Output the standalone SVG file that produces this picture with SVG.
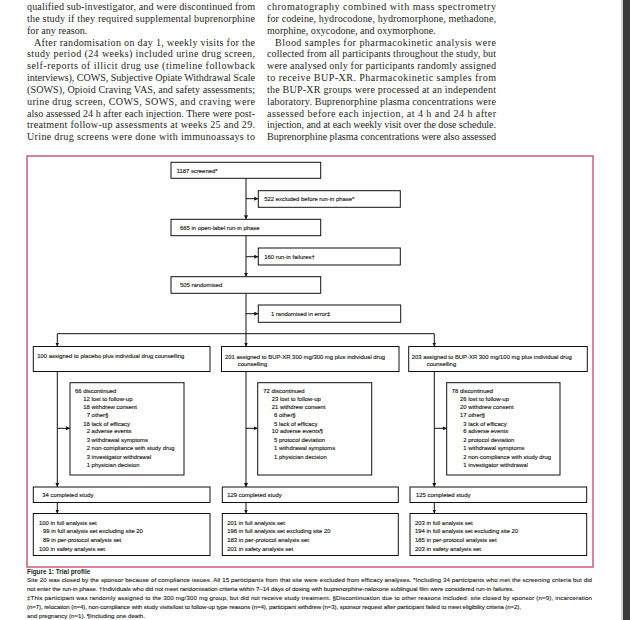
<svg xmlns="http://www.w3.org/2000/svg" width="630" height="620" viewBox="0 0 630 620">
<style>
.body{font-family:"Liberation Serif","Times New Roman",serif;font-size:10.1px;fill:#231f20}
.t{font-family:"Liberation Sans",Arial,sans-serif;font-size:5.9px;fill:#231f20;stroke:#231f20;stroke-width:0.15}
.cap{font-family:"Liberation Sans",Arial,sans-serif;font-size:6.1px;fill:#231f20;stroke:#231f20;stroke-width:0.12}
.capb{font-family:"Liberation Sans",Arial,sans-serif;font-size:6.4px;font-weight:bold;fill:#231f20}
.box{fill:#fff;stroke:#111;stroke-width:1}
.ln{fill:none;stroke:#111;stroke-width:1}
.arr{fill:none;stroke:#111;stroke-width:1;marker-end:url(#ah)}
</style>
<defs>
<marker id="ah" viewBox="0 0 6 6" refX="6" refY="3" markerWidth="4" markerHeight="4" markerUnits="userSpaceOnUse" orient="auto">
<path d="M0,0 L6,3 L0,6 z" fill="#111"/>
</marker>
</defs>
<rect width="630" height="620" fill="#fff"/>
<rect x="621" y="0" width="2" height="620" fill="#d4d4d4"/>
<rect x="623" y="0" width="7" height="620" fill="#3a3a3a"/>

<g id="body-text">
<text class="body" x="27" y="10" textLength="228" lengthAdjust="spacing">qualified sub-investigator, and were discontinued from</text>
<text class="body" x="27" y="22" textLength="228" lengthAdjust="spacing">the study if they required supplemental buprenorphine</text>
<text class="body" x="27" y="34">for any reason.</text>
<text class="body" x="34" y="45.5" textLength="221" lengthAdjust="spacing">After randomisation on day 1, weekly visits for the</text>
<text class="body" x="27" y="57" textLength="228" lengthAdjust="spacing">study period (24 weeks) included urine drug screen,</text>
<text class="body" x="27" y="69" textLength="228" lengthAdjust="spacing">self-reports of illicit drug use (timeline followback</text>
<text class="body" x="27" y="81" textLength="228" lengthAdjust="spacing">interviews), COWS, Subjective Opiate Withdrawal Scale</text>
<text class="body" x="27" y="93" textLength="228" lengthAdjust="spacing">(SOWS), Opioid Craving VAS, and safety assessments;</text>
<text class="body" x="27" y="104.5" textLength="228" lengthAdjust="spacing">urine drug screen, COWS, SOWS, and craving were</text>
<text class="body" x="27" y="116.5" textLength="228" lengthAdjust="spacing">also assessed 24 h after each injection. There were post-</text>
<text class="body" x="27" y="128" textLength="228" lengthAdjust="spacing">treatment follow-up assessments at weeks 25 and 29.</text>
<text class="body" x="27" y="140" textLength="228" lengthAdjust="spacing">Urine drug screens were done with immunoassays to</text>

<text class="body" x="267" y="10" textLength="229" lengthAdjust="spacing">chromatography combined with mass spectrometry</text>
<text class="body" x="267" y="22" textLength="229" lengthAdjust="spacing">for codeine, hydrocodone, hydromorphone, methadone,</text>
<text class="body" x="267" y="34">morphine, oxycodone, and oxymorphone.</text>
<text class="body" x="275" y="45.5" textLength="221" lengthAdjust="spacing">Blood samples for pharmacokinetic analysis were</text>
<text class="body" x="267" y="57" textLength="229" lengthAdjust="spacing">collected from all participants throughout the study, but</text>
<text class="body" x="267" y="69" textLength="229" lengthAdjust="spacing">were analysed only for participants randomly assigned</text>
<text class="body" x="267" y="81" textLength="229" lengthAdjust="spacing">to receive BUP-XR. Pharmacokinetic samples from</text>
<text class="body" x="267" y="93" textLength="229" lengthAdjust="spacing">the BUP-XR groups were processed at an independent</text>
<text class="body" x="267" y="104.5" textLength="229" lengthAdjust="spacing">laboratory. Buprenorphine plasma concentrations were</text>
<text class="body" x="267" y="116.5" textLength="229" lengthAdjust="spacing">assessed before each injection, at 4 h and 24 h after</text>
<text class="body" x="267" y="128" textLength="229" lengthAdjust="spacing">injection, and at each weekly visit over the dose schedule.</text>
<text class="body" x="267" y="140" textLength="229" lengthAdjust="spacing">Buprenorphine plasma concentrations were also assessed</text>
</g>

<rect x="27" y="156" width="566" height="411" fill="none" stroke="#c8506f" stroke-width="1.4"/>

<g id="connectors">
<path class="arr" d="M246,178.3 V219.3"/>
<path class="arr" d="M246,198.7 H258.3"/>
<path class="arr" d="M246,235.7 V276.7"/>
<path class="arr" d="M246,256.7 H258.3"/>
<path class="arr" d="M246,293.3 V346.5"/>
<path class="arr" d="M246,313.7 H258.3"/>
<path class="ln" d="M57.3,333.7 H434.3"/>
<path class="arr" d="M57.3,333.7 V346.5"/>
<path class="arr" d="M434.3,333.7 V346.5"/>
<path class="arr" d="M57.3,371.5 V487"/>
<path class="arr" d="M57.3,428.3 H70"/>
<path class="arr" d="M246,371.5 V487"/>
<path class="arr" d="M246,428.3 H257.7"/>
<path class="arr" d="M434.3,371.5 V487"/>
<path class="arr" d="M434.3,428.3 H446.7"/>
<path class="arr" d="M57.3,502.5 V513.5"/>
<path class="arr" d="M246,502.5 V513.5"/>
<path class="arr" d="M434.3,502.5 V513.5"/>
</g>

<g id="screened">
<rect class="box" x="171" y="162.3" width="149.7" height="16"/>
<text class="t" x="176.7" y="173">1187 screened*</text>
</g>
<g id="excluded">
<rect class="box" x="258.3" y="190.7" width="142" height="16.6"/>
<text class="t" x="264.3" y="201">522 excluded before run-in phase*</text>
</g>
<g id="runin">
<rect class="box" x="171" y="219.3" width="149.7" height="16.4"/>
<text class="t" x="180" y="229.7">665 in open-label run-in phase</text>
</g>
<g id="failures">
<rect class="box" x="258.3" y="248" width="142" height="17"/>
<text class="t" x="264.3" y="258.7">160 run-in failures†</text>
</g>
<g id="randomised">
<rect class="box" x="171" y="276.7" width="149.7" height="16.6"/>
<text class="t" x="180" y="287">505 randomised</text>
</g>
<g id="error">
<rect class="box" x="258.3" y="305" width="142.4" height="17.3"/>
<text class="t" x="271" y="315.7">1 randomised in error‡</text>
</g>

<g id="assigned-placebo">
<rect class="box" x="33.3" y="346.5" width="176.7" height="25"/>
<text class="t" x="37.3" y="357.7">100 assigned to placebo plus individual drug counselling</text>
</g>
<g id="assigned-300">
<rect class="box" x="221.5" y="346.5" width="177.5" height="25"/>
<text class="t" x="225" y="358.5">201 assigned to BUP-XR 300 mg/300 mg plus individual drug</text>
<text class="t" x="237.7" y="366">counselling</text>
</g>
<g id="assigned-100">
<rect class="box" x="408.7" y="346.5" width="178.6" height="25"/>
<text class="t" x="411.7" y="358.5">203 assigned to BUP-XR 300 mg/100 mg plus individual drug</text>
<text class="t" x="426.7" y="366">counselling</text>
</g>

<g id="disc-placebo">
<rect class="box" x="70" y="382.7" width="114" height="92.3"/>
<text class="t" x="75" y="393">66 discontinued</text>
<text class="t" x="83.3" y="401">12 lost to follow-up</text>
<text class="t" x="83.3" y="408.7">18 withdrew consent</text>
<text class="t" x="86.7" y="417.3">7 other§</text>
<text class="t" x="83.3" y="425.7">18 lack of efficacy</text>
<text class="t" x="86.7" y="433.3">2 adverse events</text>
<text class="t" x="86.7" y="442">3 withdrawal symptoms</text>
<text class="t" x="86.7" y="450.3">2 non-compliance with study drug</text>
<text class="t" x="86.7" y="458.7">3 investigator withdrawal</text>
<text class="t" x="86.7" y="467">1 physician decision</text>
</g>
<g id="disc-300">
<rect class="box" x="257.7" y="382.7" width="114" height="92.3"/>
<text class="t" x="263.3" y="393">72 discontinued</text>
<text class="t" x="271.7" y="401">23 lost to follow-up</text>
<text class="t" x="271.7" y="408.7">21 withdrew consent</text>
<text class="t" x="274" y="417.3">6 other§</text>
<text class="t" x="274" y="425.7">5 lack of efficacy</text>
<text class="t" x="271.7" y="433.3">10 adverse events¶</text>
<text class="t" x="274" y="442">5 protocol deviation</text>
<text class="t" x="274" y="450.3">1 withdrawal symptoms</text>
<text class="t" x="274" y="458.7">1 physician decision</text>
</g>
<g id="disc-100">
<rect class="box" x="446.7" y="382.7" width="113.3" height="92.3"/>
<text class="t" x="451.7" y="393">78 discontinued</text>
<text class="t" x="460" y="401">26 lost to follow-up</text>
<text class="t" x="460" y="408.7">20 withdrew consent</text>
<text class="t" x="460" y="417.3">17 other§</text>
<text class="t" x="463.3" y="425.7">3 lack of efficacy</text>
<text class="t" x="463.3" y="433.3">6 adverse events</text>
<text class="t" x="463.3" y="442">2 protocol deviation</text>
<text class="t" x="463.3" y="450.3">1 withdrawal symptoms</text>
<text class="t" x="463.3" y="458.7">2 non-compliance with study drug</text>
<text class="t" x="463.3" y="467">1 investigator withdrawal</text>
</g>

<g id="completed-placebo">
<rect class="box" x="33.3" y="487" width="176.7" height="15.5"/>
<text class="t" x="42.3" y="497">34 completed study</text>
</g>
<g id="completed-300">
<rect class="box" x="222.3" y="487" width="176" height="15.5"/>
<text class="t" x="227.3" y="497">129 completed study</text>
</g>
<g id="completed-100">
<rect class="box" x="410" y="487" width="176.7" height="15.5"/>
<text class="t" x="416" y="497">125 completed study</text>
</g>

<g id="analysis-placebo">
<rect class="box" x="33.3" y="513.5" width="176.7" height="42"/>
<text class="t" x="39" y="524.5">100 in full analysis set</text>
<text class="t" x="43" y="533">99 in full analysis set excluding site 20</text>
<text class="t" x="43" y="541.5">89 in per-protocol analysis set</text>
<text class="t" x="39" y="550.5">100 in safety analysis set</text>
</g>
<g id="analysis-300">
<rect class="box" x="222.3" y="513.5" width="176" height="42"/>
<text class="t" x="227.3" y="524.5">201 in full analysis set</text>
<text class="t" x="227.3" y="533">196 in full analysis set excluding site 20</text>
<text class="t" x="227.3" y="541.5">183 in per-protocol analysis set</text>
<text class="t" x="227.3" y="550.5">201 in safety analysis set</text>
</g>
<g id="analysis-100">
<rect class="box" x="410" y="513.5" width="176.7" height="42"/>
<text class="t" x="415" y="524.5">203 in full analysis set</text>
<text class="t" x="415" y="533">194 in full analysis set excluding site 20</text>
<text class="t" x="415" y="541.5">185 in per-protocol analysis set</text>
<text class="t" x="415" y="550.5">203 in safety analysis set</text>
</g>

<g id="caption">
<text class="capb" x="27" y="573.5">Figure 1: Trial profile</text>
<text class="cap" x="27" y="582" textLength="565" lengthAdjust="spacing">Site 20 was closed by the sponsor because of compliance issues. All 15 participants from that site were excluded from efficacy analyses. *Including 34 participants who met the screening criteria but did</text>
<text class="cap" x="27" y="590.5" textLength="487" lengthAdjust="spacing">not enter the run-in phase. †Individuals who did not meet randomisation criteria within 7–14 days of dosing with buprenorphine-naloxone sublingual film were considered run-in failures.</text>
<text class="cap" x="27" y="600" textLength="565" lengthAdjust="spacing">‡This participant was randomly assigned to the 300 mg/300 mg group, but did not receive study treatment. §Discontinuation due to other reasons included: site closed by sponsor (n=9), incarceration</text>
<text class="cap" x="27" y="608.5" textLength="494" lengthAdjust="spacing">(n=7), relocation (n=4), non-compliance with study visits/lost to follow-up type reasons (n=4), participant withdrew (n=3), sponsor request after participant failed to meet eligibility criteria (n=2),</text>
<text class="cap" x="27" y="617.5">and pregnancy (n=1). ¶Including one death.</text>
</g>
</svg>
